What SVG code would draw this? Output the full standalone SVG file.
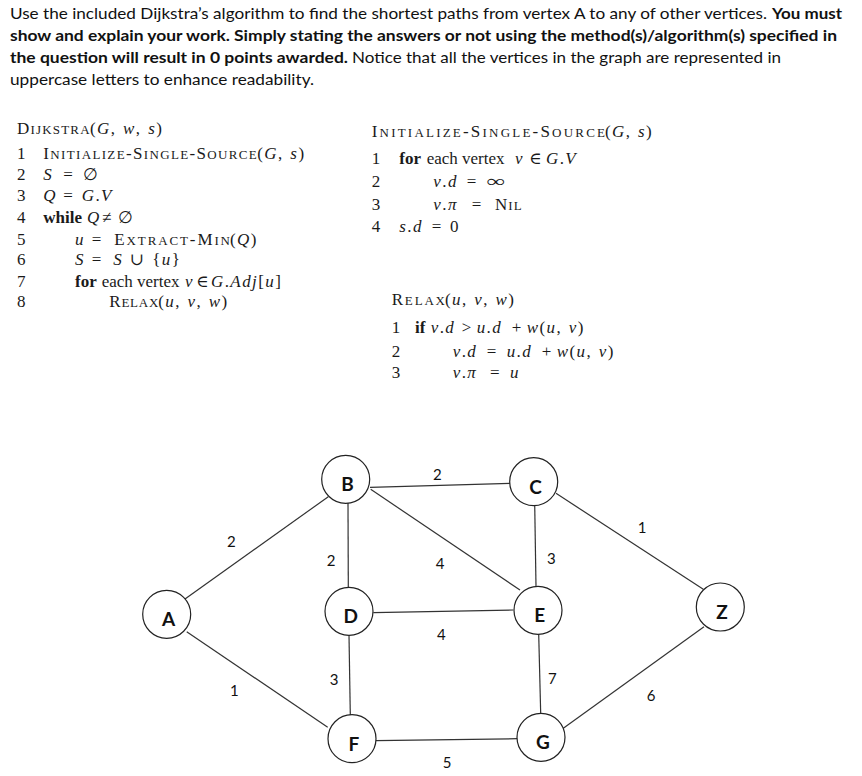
<svg xmlns="http://www.w3.org/2000/svg" width="862" height="776" viewBox="0 0 862 776">
<style>
.hd{font-family:Lato,"Open Sans","Liberation Sans",sans-serif;font-size:15px;fill:#111}
.hb{font-weight:bold}
.al{font-family:"Liberation Serif","DejaVu Serif",serif;font-size:17px;fill:#1a1a1a}
.it{font-style:italic}
.m{letter-spacing:1.4px;word-spacing:1px}
.b{font-weight:bold}
.sc{font-size:13px}
.edge{stroke:#333;stroke-width:1.2;fill:none}
.node circle{fill:#fff;stroke:#222;stroke-width:1.2}
.node text{font-family:Lato,"Open Sans","Liberation Sans",sans-serif;font-weight:bold;font-size:19px;fill:#111;text-anchor:middle}
.wl{font-family:Lato,"Open Sans","Liberation Sans",sans-serif;font-size:15px;fill:#111;text-anchor:middle}
</style>
<rect width="862" height="776" fill="#fff"/>
<g id="header" class="hd">
<text x="10" y="19" textLength="757" lengthAdjust="spacingAndGlyphs">Use the included Dijkstra’s algorithm to find the shortest paths from vertex A to any of other vertices.</text>
<text x="772" y="19" class="hb" textLength="70" lengthAdjust="spacingAndGlyphs">You must</text>
<text x="10" y="41" class="hb" textLength="827" lengthAdjust="spacingAndGlyphs">show and explain your work. Simply stating the answers or not using the method(s)/algorithm(s) specified in</text>
<text x="10" y="63" class="hb" textLength="338" lengthAdjust="spacingAndGlyphs">the question will result in 0 points awarded.</text>
<text x="352" y="63" textLength="429" lengthAdjust="spacingAndGlyphs">Notice that all the vertices in the graph are represented in</text>
<text x="10" y="85" textLength="304" lengthAdjust="spacingAndGlyphs">uppercase letters to enhance readability.</text>
</g>
<g id="dijkstra" class="al">
<text x="17" y="134" textLength="72.6" lengthAdjust="spacing">D<tspan class="sc">IJKSTRA</tspan></text>
<text x="90" y="134" class="m">(<tspan class="it">G</tspan>, <tspan class="it">w</tspan>, <tspan class="it">s</tspan>)</text>
<text x="17" y="159.3">1</text>
<text x="43.3" y="159.3" textLength="213.4" lengthAdjust="spacing">I<tspan class="sc">NITIALIZE</tspan>-S<tspan class="sc">INGLE</tspan>-S<tspan class="sc">OURCE</tspan></text>
<text x="257.3" y="159.3" class="m">(<tspan class="it">G</tspan>, <tspan class="it">s</tspan>)</text>
<text x="17" y="180">2</text>
<text x="43.3" y="180" class="it">S</text>
<text x="63.3" y="180">=</text>
<text x="83.3" y="180">∅</text>
<text x="17" y="200.7">3</text>
<text x="43.3" y="200.7" class="it">Q</text>
<text x="63.3" y="200.7">=</text>
<text x="81.7" y="200.7" class="m"><tspan class="it">G</tspan>.<tspan class="it">V</tspan></text>
<text x="17" y="222.7">4</text>
<text x="43.3" y="222.7" class="b">while</text>
<text x="87" y="222.7" class="it">Q</text>
<text x="102" y="222.7">≠</text>
<text x="118" y="222.7">∅</text>
<text x="17" y="245">5</text>
<text x="75" y="245" class="it">u</text>
<text x="91.7" y="245">=</text>
<text x="114.3" y="245" textLength="115.7" lengthAdjust="spacing">E<tspan class="sc">XTRACT</tspan>-M<tspan class="sc">IN</tspan></text>
<text x="230" y="245" class="m">(<tspan class="it">Q</tspan>)</text>
<text x="17" y="265.3">6</text>
<text x="75" y="265.3" class="it">S</text>
<text x="91.7" y="265.3">=</text>
<text x="113.3" y="265.3" class="m"><tspan class="it">S</tspan> ∪ {<tspan class="it">u</tspan>}</text>
<text x="17" y="286.7">7</text>
<text x="75" y="286.7" class="b">for</text>
<text x="101.7" y="286.7">each vertex</text>
<text x="185" y="286.7" class="it">v</text>
<text x="196" y="286.7">∈</text>
<text x="211" y="286.7" class="m"><tspan class="it">G</tspan>.<tspan class="it">Adj</tspan>[<tspan class="it">u</tspan>]</text>
<text x="17" y="307.3">8</text>
<text x="109.3" y="307.3" textLength="49" lengthAdjust="spacing">R<tspan class="sc">ELAX</tspan></text>
<text x="158.3" y="307.3" class="m">(<tspan class="it">u</tspan>, <tspan class="it">v</tspan>, <tspan class="it">w</tspan>)</text>
</g>
<g id="init" class="al">
<text x="371.7" y="136.7" textLength="233.3" lengthAdjust="spacing">I<tspan class="sc">NITIALIZE</tspan>-S<tspan class="sc">INGLE</tspan>-S<tspan class="sc">OURCE</tspan></text>
<text x="605" y="136.7" class="m">(<tspan class="it">G</tspan>, <tspan class="it">s</tspan>)</text>
<text x="371.7" y="164">1</text>
<text x="399.3" y="164" class="b">for</text>
<text x="426.7" y="164">each vertex</text>
<text x="515" y="164" class="it">v</text>
<text x="529" y="164">∈</text>
<text x="546" y="164" class="m"><tspan class="it">G</tspan>.<tspan class="it">V</tspan></text>
<text x="371.7" y="186.7">2</text>
<text x="433.3" y="186.7" class="m"><tspan class="it">v</tspan>.<tspan class="it">d</tspan></text>
<text x="466.7" y="186.7">=</text>
<text x="486.7" y="186.7" textLength="19" lengthAdjust="spacingAndGlyphs">∞</text>
<text x="371.7" y="210">3</text>
<text x="433.3" y="210" class="m"><tspan class="it">v</tspan>.<tspan class="it">π</tspan></text>
<text x="471.7" y="210">=</text>
<text x="495" y="210" textLength="26.7" lengthAdjust="spacing">N<tspan class="sc">IL</tspan></text>
<text x="371.7" y="231.7">4</text>
<text x="399.3" y="231.7" class="m"><tspan class="it">s</tspan>.<tspan class="it">d</tspan></text>
<text x="431.7" y="231.7">=</text>
<text x="450" y="231.7">0</text>
</g>
<g id="relax" class="al">
<text x="391.7" y="305" textLength="53.3" lengthAdjust="spacing">R<tspan class="sc">ELAX</tspan></text>
<text x="445" y="305" class="m">(<tspan class="it">u</tspan>, <tspan class="it">v</tspan>, <tspan class="it">w</tspan>)</text>
<text x="391.7" y="333.3">1</text>
<text x="415" y="333.3" class="b">if</text>
<text x="430.7" y="333.3" class="m"><tspan class="it">v</tspan>.<tspan class="it">d</tspan></text>
<text x="461.7" y="333.3">&gt;</text>
<text x="476.7" y="333.3" class="m"><tspan class="it">u</tspan>.<tspan class="it">d</tspan></text>
<text x="511.7" y="333.3">+</text>
<text x="526.7" y="333.3" class="m"><tspan class="it">w</tspan>(<tspan class="it">u</tspan>, <tspan class="it">v</tspan>)</text>
<text x="391.7" y="356.7">2</text>
<text x="452.7" y="356.7" class="m"><tspan class="it">v</tspan>.<tspan class="it">d</tspan></text>
<text x="486.7" y="356.7">=</text>
<text x="506.7" y="356.7" class="m"><tspan class="it">u</tspan>.<tspan class="it">d</tspan></text>
<text x="541.7" y="356.7">+</text>
<text x="556.7" y="356.7" class="m"><tspan class="it">w</tspan>(<tspan class="it">u</tspan>, <tspan class="it">v</tspan>)</text>
<text x="391.7" y="378.3">3</text>
<text x="452.7" y="378.3" class="m"><tspan class="it">v</tspan>.<tspan class="it">π</tspan></text>
<text x="490" y="378.3">=</text>
<text x="510" y="378.3" class="it">u</text>
</g>
<g id="connectors">
<line class="edge" x1="185" y1="599" x2="328.3" y2="496.7"/>
<line class="edge" x1="186.7" y1="631.7" x2="327.7" y2="727.3"/>
<line class="edge" x1="370" y1="487.3" x2="510.7" y2="483.3"/>
<line class="edge" x1="348" y1="502.7" x2="348.3" y2="587.3"/>
<line class="edge" x1="370.7" y1="489.3" x2="520" y2="590"/>
<line class="edge" x1="534.7" y1="504" x2="536" y2="586.7"/>
<line class="edge" x1="373.3" y1="612.7" x2="513.3" y2="610"/>
<line class="edge" x1="349" y1="635.3" x2="350.3" y2="715"/>
<line class="edge" x1="538.7" y1="634" x2="540.7" y2="714"/>
<line class="edge" x1="376" y1="740.7" x2="517.3" y2="738.7"/>
<line class="edge" x1="556" y1="493.3" x2="703.3" y2="589.3"/>
<line class="edge" x1="563.3" y1="728.3" x2="704" y2="626.7"/>
<text class="wl" x="231.3" y="547.2">2</text>
<text class="wl" x="234.3" y="696.2">1</text>
<text class="wl" x="437.3" y="479.8">2</text>
<text class="wl" x="331" y="566.2">2</text>
<text class="wl" x="440" y="568.8">4</text>
<text class="wl" x="441.3" y="639.5">4</text>
<text class="wl" x="334" y="684.8">3</text>
<text class="wl" x="551.3" y="563.8">3</text>
<text class="wl" x="552.3" y="683.8">7</text>
<text class="wl" x="447" y="767.8">5</text>
<text class="wl" x="642" y="532.8">1</text>
<text class="wl" x="651" y="701.2">6</text>
</g>
<g id="node-A" class="node"><circle cx="166.7" cy="614.3" r="24"/><text x="168.7" y="626.3">A</text></g>
<g id="node-B" class="node"><circle cx="345.7" cy="479.3" r="24"/><text x="347.5" y="491.3">B</text></g>
<g id="node-C" class="node"><circle cx="533.7" cy="481.7" r="24"/><text x="535.5" y="493.7">C</text></g>
<g id="node-D" class="node"><circle cx="349" cy="611.3" r="24"/><text x="350.8" y="623.3">D</text></g>
<g id="node-E" class="node"><circle cx="538" cy="610.3" r="24"/><text x="539.8" y="622.3">E</text></g>
<g id="node-F" class="node"><circle cx="352" cy="738.7" r="24"/><text x="353.8" y="750.7">F</text></g>
<g id="node-G" class="node"><circle cx="541" cy="737.3" r="24"/><text x="542.8" y="749.3">G</text></g>
<g id="node-Z" class="node"><circle cx="720.3" cy="607" r="24"/><text x="722" y="619">Z</text></g>
</svg>
